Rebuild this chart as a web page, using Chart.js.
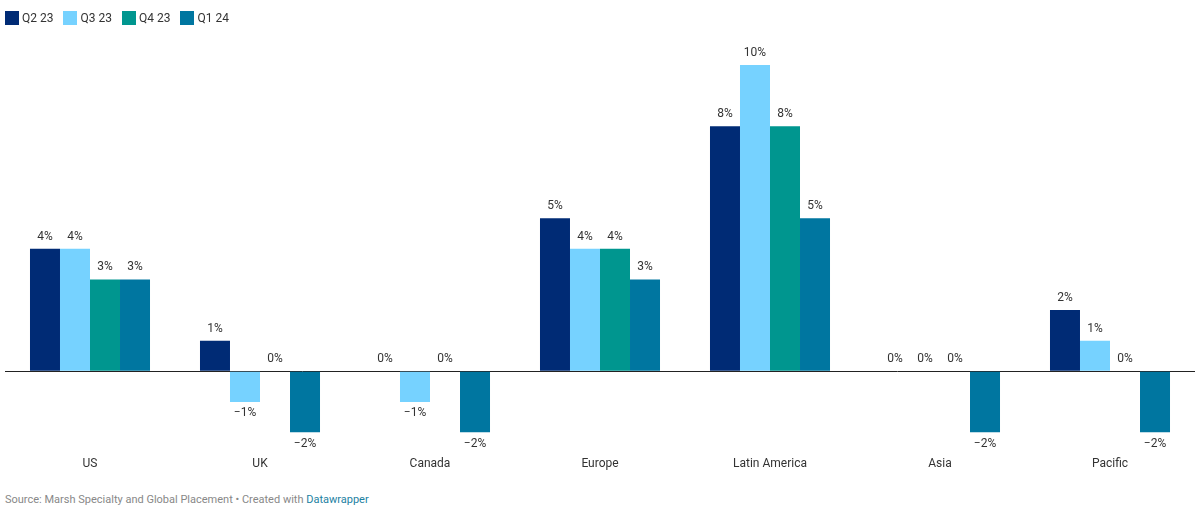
<!DOCTYPE html>
<html>
<head>
<meta charset="utf-8">
<script src="https://cdn.jsdelivr.net/npm/chart.js@4.4.1/dist/chart.umd.min.js"></script>
<style>
  html, body { margin:0; padding:0; background:#fff; }
  body { width:1196px; height:508px; position:relative; overflow:hidden; font-family: Roboto, "Noto Sans", sans-serif; }
  #wrap { position:absolute; left:0; top:0; width:1196px; height:491px; }
  #legend { position:absolute; left:5px; top:11px; height:14px; display:flex; align-items:center; font-size:12px; color:#333; font-family: Roboto, sans-serif; z-index:2; }
  #legend .item { display:flex; align-items:center; margin-right:10px; }
  #legend .box { width:14px; height:14px; margin-right:3px; }
  #foot { position:absolute; left:5px; top:493px; font-size:11px; color:#888; font-family: Roboto, sans-serif; z-index:2; }
  #foot span { color:#1d81a2; }
</style>
</head>
<body>
<div id="legend"></div>
<div id="wrap"><canvas id="c"></canvas></div>
<div id="foot">Source: Marsh Specialty and Global Placement • Created with <span>Datawrapper</span></div>
<script>
const categories = ["US", "UK", "Canada", "Europe", "Latin America", "Asia", "Pacific"];
const seriesNames = ["Q2 23", "Q3 23", "Q4 23", "Q1 24"];
const q2_23 = [4, 1, 0, 5, 8, 0, 2];
const q3_23 = [4, -1, -1, 4, 10, 0, 1];
const q4_23 = [3, 0, 0, 4, 8, 0, 0];
const q1_24 = [3, -2, -2, 3, 5, -2, -2];
const colors = ["#002b75", "#76d2ff", "#00968f", "#0076a0"];
const seriesValues = [q2_23, q3_23, q4_23, q1_24];

const leg = document.getElementById('legend');
seriesNames.forEach((n, k) => {
  const it = document.createElement('div'); it.className = 'item';
  const b = document.createElement('div'); b.className = 'box'; b.style.background = colors[k];
  const t = document.createElement('span'); t.textContent = n;
  it.appendChild(b); it.appendChild(t); leg.appendChild(it);
});

const labelPlugin = {
  id: 'valueLabels',
  afterDatasetsDraw(chart) {
    const ctx = chart.ctx;
    ctx.save();
    ctx.font = '12px Roboto, sans-serif';
    ctx.fillStyle = '#333';
    ctx.textAlign = 'center';
    chart.data.datasets.forEach((ds, di) => {
      const meta = chart.getDatasetMeta(di);
      meta.data.forEach((el, i) => {
        const v = ds.data[i];
        const txt = (v < 0 ? '\u2212' : '') + Math.abs(v) + '%';
        if (v >= 0) {
          ctx.textBaseline = 'bottom';
          ctx.fillText(txt, el.x, el.y - 6);
        } else {
          ctx.textBaseline = 'top';
          ctx.fillText(txt, el.x, el.y + 5);
        }
      });
    });
    ctx.restore();
  }
};

new Chart(document.getElementById('c'), {
  type: 'bar',
  data: {
    labels: categories,
    datasets: seriesNames.map((n, k) => ({
      label: n,
      data: seriesValues[k],
      backgroundColor: colors[k],
      borderWidth: 0,
      categoryPercentage: 0.706,
      barPercentage: 1.0
    }))
  },
  options: {
    responsive: true,
    maintainAspectRatio: false,
    animation: false,
    layout: { padding: { left: 5, right: 1, top: 65, bottom: 4 } },
    plugins: {
      legend: { display: false },
      tooltip: { enabled: false }
    },
    scales: {
      x: {
        grid: { display: false },
        border: { display: false },
        ticks: { color: '#333', font: { family: 'Roboto', size: 12 }, padding: 16 }
      },
      y: {
        min: -2, max: 10,
        ticks: { display: false, stepSize: 1 },
        border: { display: false },
        grid: {
          drawTicks: false,
          color: (c) => c.tick && c.tick.value === 0 ? '#222' : 'rgba(0,0,0,0)',
          lineWidth: 1
        }
      }
    }
  },
  plugins: [labelPlugin]
});
</script>
</body>
</html>
